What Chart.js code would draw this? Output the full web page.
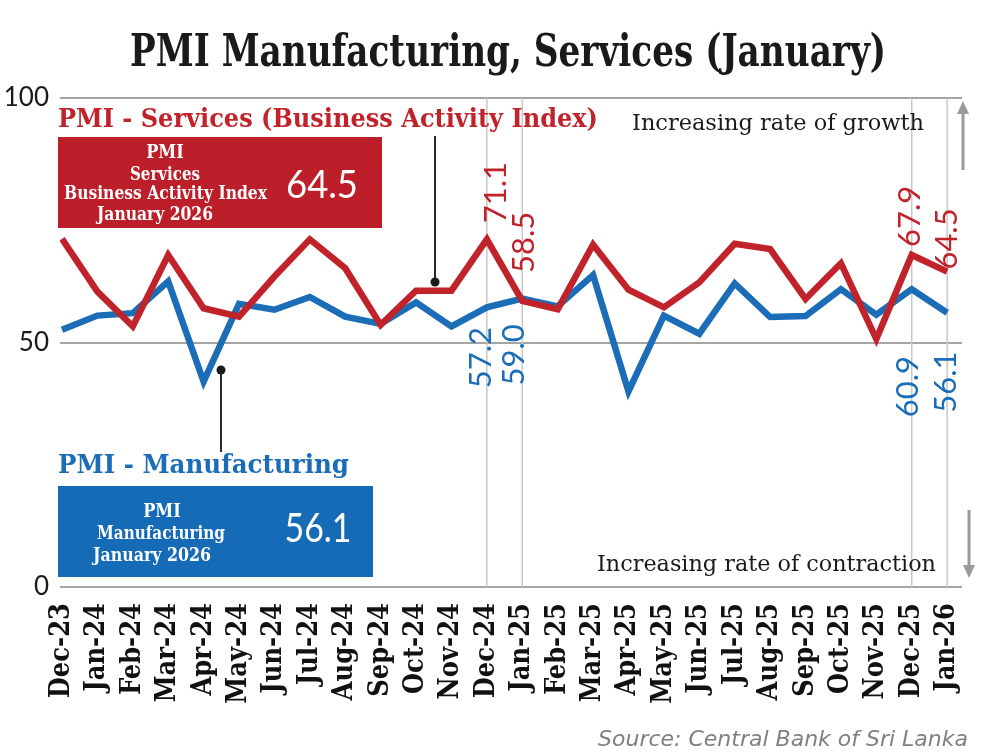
<!DOCTYPE html>
<html><head><meta charset="utf-8">
<script src="https://cdn.jsdelivr.net/npm/chart.js@4/dist/chart.umd.min.js"></script>
<style>html,body{margin:0;padding:0;background:#fff;}#wrap{width:1000px;height:755px;}</style>
</head><body><div id="wrap"><canvas id="c" width="1000" height="755"></canvas></div>
<script>
const months = ['Dec-23','Jan-24','Feb-24','Mar-24','Apr-24','May-24','Jun-24','Jul-24','Aug-24','Sep-24','Oct-24','Nov-24','Dec-24','Jan-25','Feb-25','Mar-25','Apr-25','May-25','Jun-25','Jul-25','Aug-25','Sep-25','Oct-25','Nov-25','Dec-25','Jan-26'];
const services = [71.2,60.4,53.3,67.9,57.0,55.3,63.5,71.1,65.2,53.6,60.6,60.6,71.1,58.5,56.8,70.0,60.8,57.2,62.3,70.2,69.1,58.9,66.2,50.7,67.9,64.5];
const manufacturing = [52.6,55.5,56.0,62.5,42.0,57.9,56.7,59.3,55.3,53.8,58.2,53.3,57.2,59.0,57.4,63.8,40.0,55.5,51.8,62.1,55.2,55.4,60.9,55.7,60.9,56.1];
const yTicks = [0,50,100];
const highlightMonths = ['Dec-24','Jan-25','Dec-25','Jan-26'];

const RED = '#c1232b', BLUE = '#1a6db6', RED_BOX = '#bd1f2a', BLUE_BOX = '#156bb5';
const SERIF = '"DejaVu Serif Condensed","DejaVu Serif",serif';
const SANS = 'Lato,"Open Sans",sans-serif';

function txt(ctx, s, x, y, font, color, align, w, rot, baseline) {
  ctx.save();
  ctx.font = font; ctx.fillStyle = color;
  ctx.textBaseline = baseline || 'alphabetic';
  ctx.textAlign = align || 'left';
  const m = ctx.measureText(s).width;
  ctx.translate(x, y);
  if (rot) ctx.rotate(rot);
  if (w) ctx.scale(w / m, 1);
  ctx.fillText(s, 0, 0);
  ctx.restore();
}

const decor = {
  id: 'decor',
  beforeDatasetsDraw(chart) {
    const {ctx, scales: {x, y}} = chart;
    ctx.save();
    ctx.strokeStyle = '#c8c8c8'; ctx.lineWidth = 1.5;
    highlightMonths.forEach(m => {
      const px = x.getPixelForValue(months.indexOf(m));
      ctx.beginPath(); ctx.moveTo(px, y.getPixelForValue(100)); ctx.lineTo(px, y.getPixelForValue(0)); ctx.stroke();
    });
    ctx.restore();
  },
  afterDraw(chart) {
    const {ctx, scales: {x, y}} = chart;
    // title
    txt(ctx, 'PMI Manufacturing, Services (January)', 508, 66, 'bold 44px ' + SERIF, '#1a1a1a', 'center', 756);
    // services header + box
    txt(ctx, 'PMI - Services (Business Activity Index)', 58, 127, 'bold 26px ' + SERIF, RED, 'left', 540);
    ctx.fillStyle = RED_BOX; ctx.fillRect(58, 137, 324, 91);
    txt(ctx, 'PMI', 165, 158, 'bold 18px ' + SERIF, '#fff', 'center');
    txt(ctx, 'Services', 165, 180, 'bold 18px ' + SERIF, '#fff', 'center', 70);
    txt(ctx, 'Business Activity Index', 165.5, 199, 'bold 18px ' + SERIF, '#fff', 'center', 203);
    txt(ctx, 'January 2026', 155, 220, 'bold 18px ' + SERIF, '#fff', 'center', 116);
    txt(ctx, services[services.length - 1].toFixed(1), 322, 198, '39px ' + SANS, '#fff', 'center', 72);
    // manufacturing header + box
    txt(ctx, 'PMI - Manufacturing', 58, 473, 'bold 26px ' + SERIF, BLUE, 'left', 291);
    ctx.fillStyle = BLUE_BOX; ctx.fillRect(58, 486, 315, 91);
    txt(ctx, 'PMI', 162, 517, 'bold 18px ' + SERIF, '#fff', 'center');
    txt(ctx, 'Manufacturing', 161, 539, 'bold 18px ' + SERIF, '#fff', 'center', 128);
    txt(ctx, 'January 2026', 152, 561, 'bold 18px ' + SERIF, '#fff', 'center', 118);
    txt(ctx, manufacturing[manufacturing.length - 1].toFixed(1), 318, 542, '40px ' + SANS, '#fff', 'center', 67);
    // pointers
    ctx.save();
    ctx.strokeStyle = '#2a2a2a'; ctx.fillStyle = '#1a1a1a'; ctx.lineWidth = 2;
    ctx.beginPath(); ctx.moveTo(435, 136); ctx.lineTo(435, 282); ctx.stroke();
    ctx.beginPath(); ctx.arc(435, 282, 4.5, 0, Math.PI * 2); ctx.fill();
    ctx.beginPath(); ctx.moveTo(221, 370); ctx.lineTo(221, 452); ctx.stroke();
    ctx.beginPath(); ctx.arc(221, 370, 4.5, 0, Math.PI * 2); ctx.fill();
    ctx.restore();
    // growth / contraction
    txt(ctx, 'Increasing rate of growth', 632, 130, '22px ' + SERIF, '#1a1a1a', 'left', 292);
    txt(ctx, 'Increasing rate of contraction', 597, 571, '22px ' + SERIF, '#1a1a1a', 'left', 339);
    // arrows
    ctx.save();
    ctx.strokeStyle = '#9a9a9a'; ctx.fillStyle = '#9a9a9a'; ctx.lineWidth = 3;
    ctx.beginPath(); ctx.moveTo(963, 170); ctx.lineTo(963, 112); ctx.stroke();
    ctx.beginPath(); ctx.moveTo(963, 101); ctx.lineTo(957, 114); ctx.lineTo(969, 114); ctx.closePath(); ctx.fill();
    ctx.beginPath(); ctx.moveTo(969, 510); ctx.lineTo(969, 567); ctx.stroke();
    ctx.beginPath(); ctx.moveTo(969, 578); ctx.lineTo(963, 565); ctx.lineTo(975, 565); ctx.closePath(); ctx.fill();
    ctx.restore();
    // value labels
    const lab = (arr, m, color, dx, dy) => {
      const i = months.indexOf(m);
      const px = x.getPixelForValue(i), py = y.getPixelForValue(arr[i]);
      txt(ctx, arr[i].toFixed(1), px + dx, py + dy, '31px ' + SANS, color, 'left', null, -Math.PI / 2, 'middle');
    };
    lab(services, 'Dec-24', RED, 9, -16);
    lab(services, 'Jan-25', RED, 2, -28);
    lab(manufacturing, 'Dec-24', BLUE, -6, 81);
    lab(manufacturing, 'Jan-25', BLUE, -8, 87);
    lab(services, 'Dec-25', RED, -2, -8);
    lab(services, 'Jan-26', RED, 0, -2);
    lab(manufacturing, 'Dec-25', BLUE, -4, 128);
    lab(manufacturing, 'Jan-26', BLUE, -1, 100);
    // source
    txt(ctx, 'Source: Central Bank of Sri Lanka', 968, 746, 'italic 22px "DejaVu Sans Condensed","DejaVu Sans",sans-serif', '#808080', 'right', 370);
  }
};

new Chart(document.getElementById('c'), {
  type: 'line',
  data: {
    datasets: [
      {label: 'PMI - Services', data: services.map((v, i) => ({x: i, y: v})), borderColor: RED, borderWidth: 6.5, pointRadius: 0, tension: 0},
      {label: 'PMI - Manufacturing', data: manufacturing.map((v, i) => ({x: i, y: v})), borderColor: BLUE, borderWidth: 6.5, pointRadius: 0, tension: 0}
    ]
  },
  options: {
    responsive: false, animation: false, devicePixelRatio: 1,
    layout: {padding: {top: 98, right: 38, left: 0, bottom: 0}},
    plugins: {legend: {display: false}, tooltip: {enabled: false}},
    scales: {
      x: {
        type: 'linear', min: -0.056, max: 25.42,
        grid: {display: false}, border: {display: false},
        afterFit: s => { s.height = 168; },
        ticks: {
          stepSize: 1, includeBounds: false, autoSkip: false, minRotation: 90, maxRotation: 90, padding: 8,
          color: '#111', font: {family: SERIF, size: 27, weight: 'bold'},
          callback: v => months[v] ?? ''
        }
      },
      y: {
        min: 0, max: 100,
        afterFit: s => { s.width = 60; },
        afterBuildTicks: s => { s.ticks = yTicks.map(v => ({value: v})); },
        grid: {color: '#a5a5a5', lineWidth: 2, drawTicks: false}, border: {display: false},
        ticks: {padding: 11, color: '#1a1a1a', font: {family: SANS, size: 26}}
      }
    }
  },
  plugins: [decor]
});
</script></body></html>
